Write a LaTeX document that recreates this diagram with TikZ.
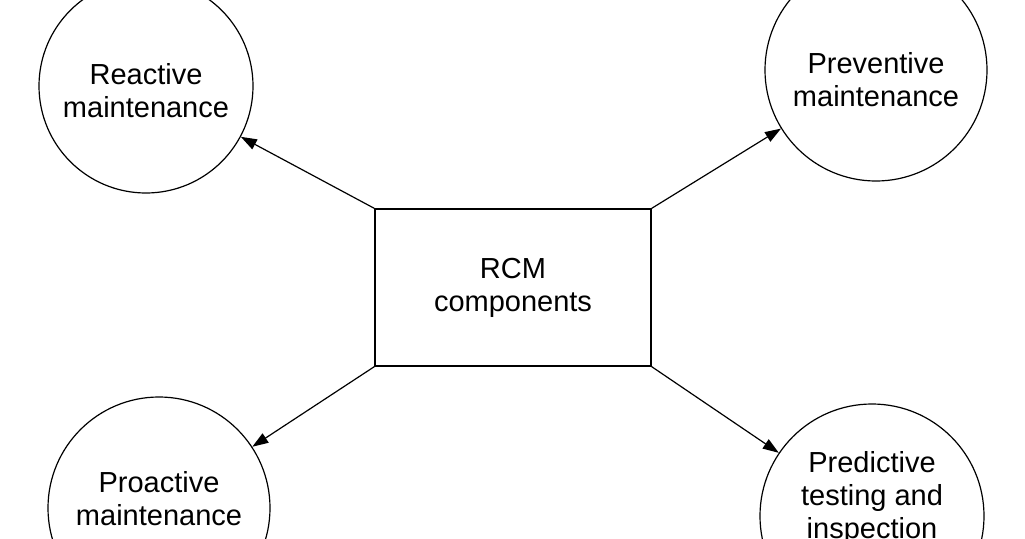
\documentclass[tikz,border=0pt]{standalone}
\usepackage{fontspec}
\setmainfont{Liberation Sans}
\usetikzlibrary{arrows.meta}
\begin{document}
\begin{tikzpicture}[x=1pt,y=-1pt,
  circ/.style={draw,circle,line width=1.2pt,inner sep=0pt},
  lbl/.style={align=center,font=\fontsize{29}{33}\selectfont},
  arr/.style={line width=1.2pt,-{Triangle[length=16pt,width=11pt,fill=black]}}]
\useasboundingbox (0,0) rectangle (1025,538);
\clip (0,0) rectangle (1025,538);
\fill[white] (0,0) rectangle (1025,538);
\node[circ,minimum size=214pt] (re) at (146,86) {};
\node[circ,minimum size=222pt] (pv) at (876,70) {};
\node[circ,minimum size=222pt] (pa) at (159,508) {};
\node[circ,minimum size=224pt] (pd) at (872,516) {};
\node[lbl] (tre) at (146,91) {Reactive\\maintenance};
\node[lbl] (tpv) at (876,80) {Preventive\\maintenance};
\node[lbl] (tpa) at (159,499) {Proactive\\maintenance};
\node[lbl] (tpd) at (872,498) {Predictive\\testing and\\inspection};
\node[draw,line width=1.2pt,minimum width=276pt,minimum height=157pt,lbl] (rc) at (513,287.5) {RCM\\components};
\draw[arr] (rc.north west) -- (re);
\draw[arr] (rc.north east) -- (pv);
\draw[arr] (rc.south west) -- (pa);
\draw[arr] (rc.south east) -- (pd);
\end{tikzpicture}
\end{document}
